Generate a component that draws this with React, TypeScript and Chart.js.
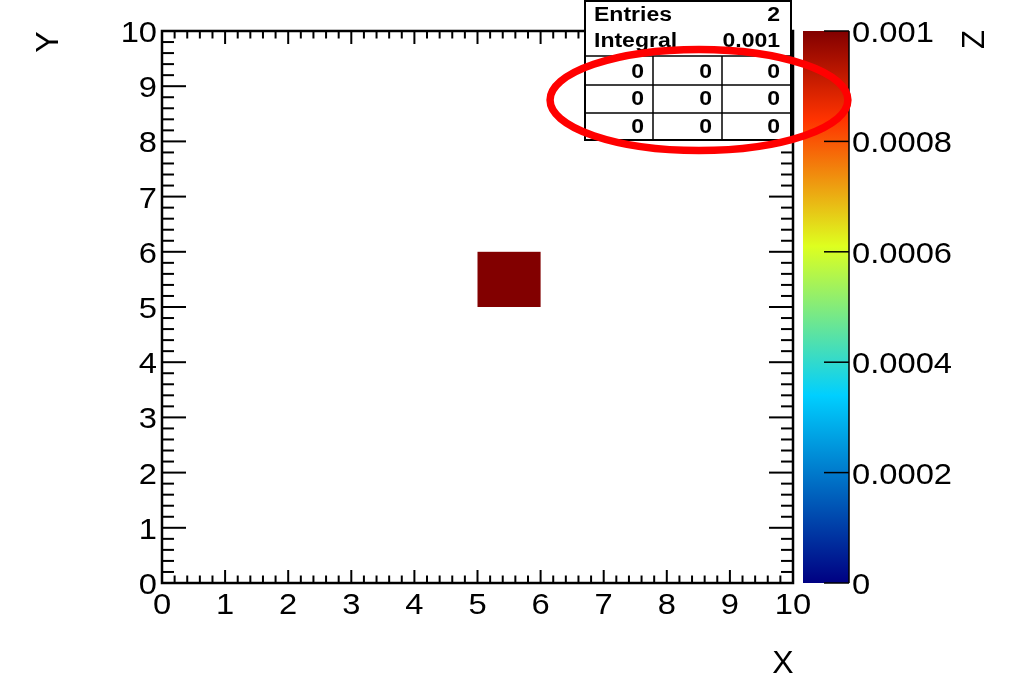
import React, { useEffect, useRef } from 'react';
import { Chart, registerables } from 'chart.js';

Chart.register(...registerables);

// ---- data ----
const xTickValues = [0, 1, 2, 3, 4, 5, 6, 7, 8, 9, 10];
const xTickLabels = ['0', '1', '2', '3', '4', '5', '6', '7', '8', '9', '10'];
const yTickValues = [0, 1, 2, 3, 4, 5, 6, 7, 8, 9, 10];
const yTickLabels = ['0', '1', '2', '3', '4', '5', '6', '7', '8', '9', '10'];
const zTickValues = [0, 0.0002, 0.0004, 0.0006, 0.0008, 0.001];
const zTickLabels = ['0', '0.0002', '0.0004', '0.0006', '0.0008', '0.001'];
const zMax = 0.001;

const binXLow = [5];
const binXHigh = [6];
const binYLow = [5];
const binYHigh = [6];
const binContent = [0.001];

const statsNames = ['Entries', 'Integral'];
const statsValues = ['2', '0.001'];
const statsGrid = [
  ['0', '0', '0'],
  ['0', '0', '0'],
  ['0', '0', '0'],
];

const axisTitleX = 'X';
const axisTitleY = 'Y';
const axisTitleZ = 'Z';

// annotation ellipse (data coordinates)
const ellipseCenterX = 8.51;
const ellipseCenterY = 8.75;
const ellipseRadiusX = 2.36;
const ellipseRadiusY = 0.915;

// palette (ROOT rainbow)
const paletteStops = [0.0, 0.34, 0.61, 0.84, 1.0];
const paletteRed = [0.0, 0.0, 0.87, 1.0, 0.51];
const paletteGreen = [0.0, 0.81, 1.0, 0.2, 0.0];
const paletteBlue = [0.51, 1.0, 0.12, 0.0, 0.0];

function stopColor(i: number) {
  return `rgb(${Math.round(paletteRed[i] * 255)},${Math.round(paletteGreen[i] * 255)},${Math.round(paletteBlue[i] * 255)})`;
}

function paletteColor(f: number) {
  const t = Math.max(0, Math.min(1, f));
  for (let i = 0; i < paletteStops.length - 1; i++) {
    if (t <= paletteStops[i + 1]) {
      const u = (t - paletteStops[i]) / (paletteStops[i + 1] - paletteStops[i]);
      const r = paletteRed[i] + (paletteRed[i + 1] - paletteRed[i]) * u;
      const g = paletteGreen[i] + (paletteGreen[i + 1] - paletteGreen[i]) * u;
      const b = paletteBlue[i] + (paletteBlue[i + 1] - paletteBlue[i]) * u;
      return `rgb(${Math.round(r * 255)},${Math.round(g * 255)},${Math.round(b * 255)})`;
    }
  }
  return stopColor(paletteStops.length - 1);
}

const FONT = '"Liberation Sans", Arial, Helvetica, sans-serif';

function drawText(
  ctx: CanvasRenderingContext2D,
  text: string,
  x: number,
  y: number,
  align: CanvasTextAlign,
  font: string,
  sx: number,
  rot = 0
) {
  ctx.save();
  ctx.translate(x, y);
  if (rot) ctx.rotate(rot);
  ctx.scale(sx, 1);
  ctx.font = font;
  ctx.textAlign = align;
  ctx.textBaseline = 'alphabetic';
  ctx.fillStyle = '#000';
  ctx.fillText(text, 0, 0);
  ctx.restore();
}

function line(ctx: CanvasRenderingContext2D, x1: number, y1: number, x2: number, y2: number) {
  ctx.beginPath();
  ctx.moveTo(x1, y1);
  ctx.lineTo(x2, y2);
  ctx.stroke();
}

function minorValues(majors: number[], n: number) {
  const out: number[] = [];
  for (let i = 0; i < majors.length - 1; i++) {
    for (let k = 1; k < n; k++) out.push(majors[i] + ((majors[i + 1] - majors[i]) * k) / n);
  }
  return out;
}

const rootPlugin = {
  id: 'rootStyle',
  beforeDraw(chart: any) {
    const ctx = chart.ctx as CanvasRenderingContext2D;
    ctx.save();
    ctx.fillStyle = '#fff';
    ctx.fillRect(0, 0, chart.width, chart.height);
    ctx.restore();
  },
  afterDatasetsDraw(chart: any) {
    const ctx = chart.ctx as CanvasRenderingContext2D;
    const xs = chart.scales.x;
    const ys = chart.scales.y;
    const zs = chart.scales.z;
    const area = chart.chartArea;
    const L = area.left, R = area.right, T = area.top, B = area.bottom;

    ctx.save();
    // bins
    for (let i = 0; i < binContent.length; i++) {
      const x1 = xs.getPixelForValue(binXLow[i]);
      const x2 = xs.getPixelForValue(binXHigh[i]);
      const y1 = ys.getPixelForValue(binYHigh[i]);
      const y2 = ys.getPixelForValue(binYLow[i]);
      ctx.fillStyle = paletteColor(binContent[i] / zMax);
      ctx.fillRect(x1, y1, x2 - x1, y2 - y1);
    }

    // frame
    ctx.strokeStyle = '#000';
    ctx.lineWidth = 2.5;
    ctx.strokeRect(L, T, R - L, B - T);

    // ticks
    ctx.lineWidth = 2;
    const xMaj = 13, xMin = 7.5, yMaj = 24, yMin = 12;
    xTickValues.forEach((v) => {
      const p = xs.getPixelForValue(v);
      line(ctx, p, B, p, B - xMaj);
      line(ctx, p, T, p, T + xMaj);
    });
    minorValues(xTickValues, 5).forEach((v) => {
      const p = xs.getPixelForValue(v);
      line(ctx, p, B, p, B - xMin);
      line(ctx, p, T, p, T + xMin);
    });
    yTickValues.forEach((v) => {
      const p = ys.getPixelForValue(v);
      line(ctx, L, p, L + yMaj, p);
      line(ctx, R, p, R - yMaj, p);
    });
    minorValues(yTickValues, 5).forEach((v) => {
      const p = ys.getPixelForValue(v);
      line(ctx, L, p, L + yMin, p);
      line(ctx, R, p, R - yMin, p);
    });

    // tick labels
    const labFont = `30px ${FONT}`;
    const sx = 1.09;
    xTickValues.forEach((v, i) => {
      drawText(ctx, xTickLabels[i], xs.getPixelForValue(v), B + 31, 'center', labFont, sx);
    });
    yTickValues.forEach((v, i) => {
      drawText(ctx, yTickLabels[i], L - 5, ys.getPixelForValue(v) + 11, 'right', labFont, sx);
    });

    // palette
    const pL = R + 10, pR = R + 56;
    const pTop = zs.getPixelForValue(zMax);
    const pBot = zs.getPixelForValue(0);
    const grad = ctx.createLinearGradient(0, pBot, 0, pTop);
    paletteStops.forEach((s, i) => grad.addColorStop(s, stopColor(i)));
    ctx.fillStyle = grad;
    ctx.fillRect(pL, pTop, pR - pL, pBot - pTop);
    ctx.strokeStyle = '#000';
    ctx.lineWidth = 1.5;
    line(ctx, pR, pTop, pR, pBot);
    zTickValues.forEach((v, i) => {
      const p = zs.getPixelForValue(v);
      line(ctx, pR, p, pR - 25, p);
      drawText(ctx, zTickLabels[i], pR + 3, p + 11, 'left', labFont, sx);
    });

    // axis titles
    drawText(ctx, axisTitleX, 783, 673, 'center', `32px ${FONT}`, 1.0);
    drawText(ctx, axisTitleY, 58, 42, 'center', `32px ${FONT}`, 1.0, -Math.PI / 2);
    drawText(ctx, axisTitleZ, 984, 39.5, 'center', `31px ${FONT}`, 1.0, -Math.PI / 2);

    // stats box
    const bL = 585, bR = 791, bT = 1, bB = 140;
    const rowLines = [56, 85, 113];
    const colLines = [653, 722];
    ctx.fillStyle = '#fff';
    ctx.fillRect(bL, bT, bR - bL, bB - bT);
    ctx.lineWidth = 1.5;
    rowLines.forEach((y) => line(ctx, bL, y, bR, y));
    colLines.forEach((x) => line(ctx, x, rowLines[0], x, bB));
    ctx.lineWidth = 2;
    ctx.strokeRect(bL, bT, bR - bL, bB - bT);

    const sFont = `bold 20px ${FONT}`;
    const ssx = 1.15;
    const nameBase = [21, 47];
    statsNames.forEach((n, i) => {
      drawText(ctx, n, 594, nameBase[i], 'left', sFont, ssx);
      drawText(ctx, statsValues[i], 780, nameBase[i], 'right', sFont, ssx);
    });
    const rowBase = [77.5, 105, 133];
    const colRight = [644, 712, 780];
    statsGrid.forEach((row, r) => {
      row.forEach((c, k) => drawText(ctx, c, colRight[k], rowBase[r], 'right', sFont, ssx));
    });

    // annotation ellipse
    const cx = xs.getPixelForValue(ellipseCenterX);
    const cy = ys.getPixelForValue(ellipseCenterY);
    const rx = Math.abs(xs.getPixelForValue(ellipseCenterX + ellipseRadiusX) - cx);
    const ry = Math.abs(ys.getPixelForValue(ellipseCenterY + ellipseRadiusY) - cy);
    ctx.strokeStyle = 'rgb(255,0,0)';
    ctx.lineWidth = 7.5;
    ctx.beginPath();
    ctx.ellipse(cx, cy, rx, ry, 0, 0, Math.PI * 2);
    ctx.stroke();

    ctx.restore();
  },
};

export default function App() {
  const ref = useRef<HTMLCanvasElement | null>(null);
  useEffect(() => {
    if (!ref.current) return;
    const chart = new Chart(ref.current, {
      type: 'scatter',
      data: {
        datasets: [
          {
            data: binContent.map((z, i) => ({
              x: (binXLow[i] + binXHigh[i]) / 2,
              y: (binYLow[i] + binYHigh[i]) / 2,
            })),
            pointRadius: 0,
            pointHoverRadius: 0,
          },
        ],
      },
      options: {
        responsive: false,
        animation: false,
        events: [],
        layout: { padding: { left: 162, top: 31, right: 231, bottom: 106 } },
        scales: {
          x: { type: 'linear', min: 0, max: 10, display: false },
          y: { type: 'linear', min: 0, max: 10, display: false },
          z: { type: 'linear', axis: 'y', min: 0, max: zMax, display: false },
        },
        plugins: { legend: { display: false }, tooltip: { enabled: false } },
      } as any,
      plugins: [rootPlugin],
    });
    return () => chart.destroy();
  }, []);
  return (
    <div style={{ position: 'absolute', left: 0, top: 0, width: 1024, height: 689, background: '#fff' }}>
      <canvas ref={ref} width={1024} height={689} style={{ display: 'block' }} />
    </div>
  );
}
